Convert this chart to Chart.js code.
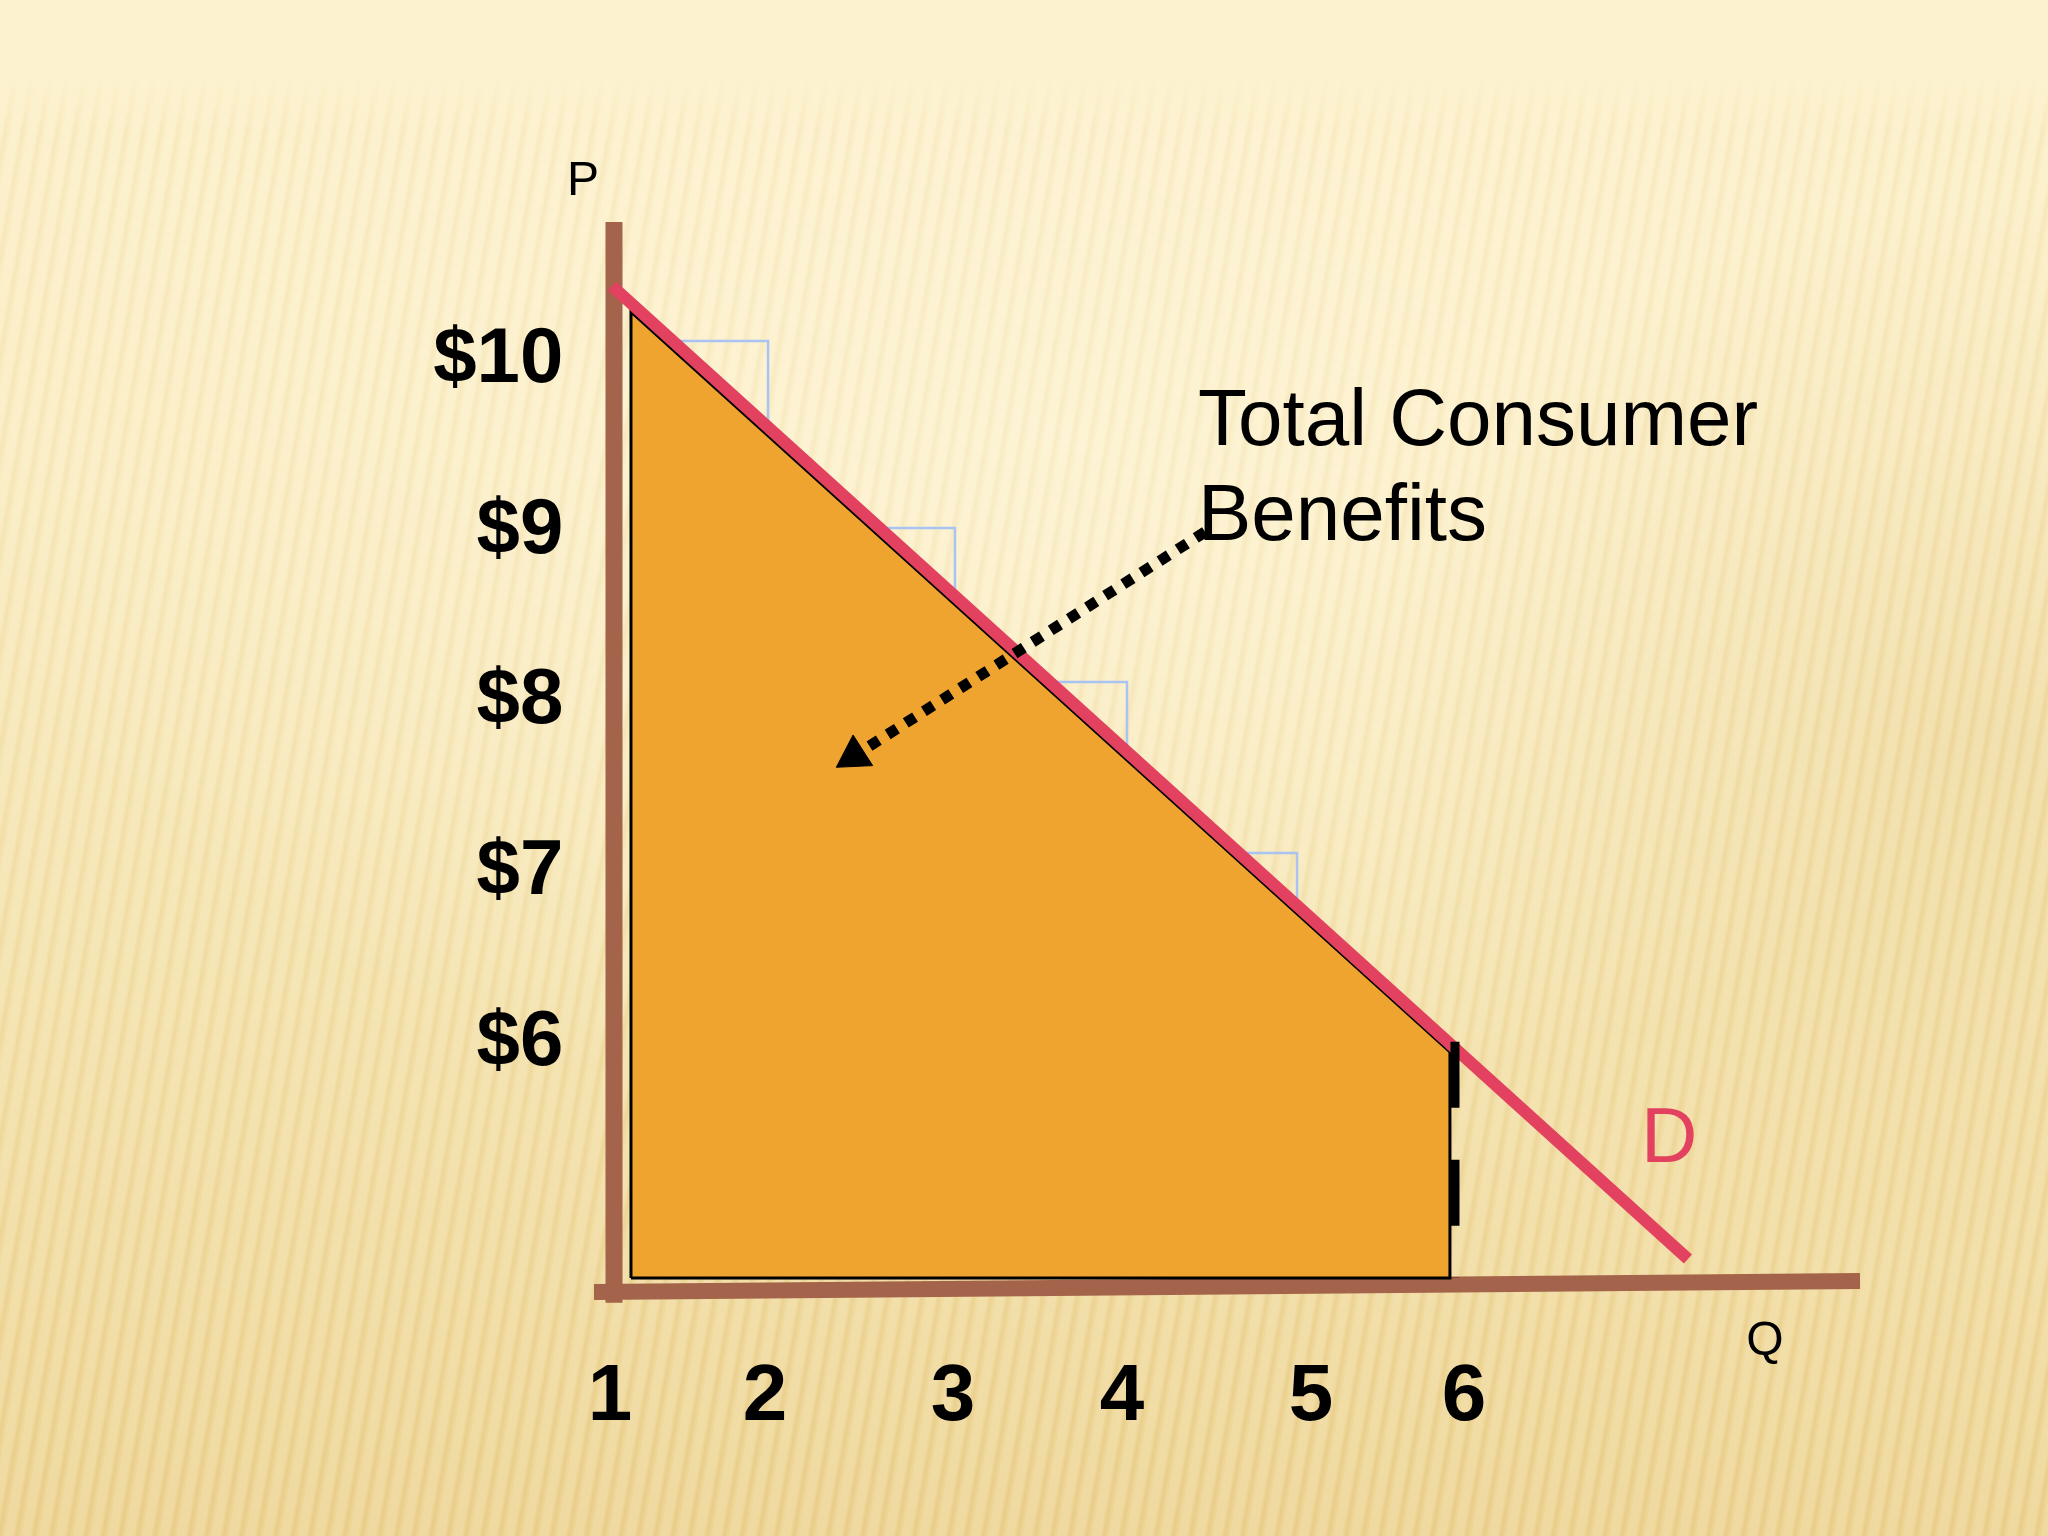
<!DOCTYPE html>
<html>
<head>
<meta charset="utf-8">
<script src="https://cdn.jsdelivr.net/npm/chart.js@4.4.1/dist/chart.umd.min.js"></script>
<style>
  html, body { margin: 0; padding: 0; }
  body {
    width: 2048px;
    height: 1536px;
    overflow: hidden;
    background:
      linear-gradient(to bottom, #fdf2cf 0px, #fdf2cf 75px, rgba(253,242,207,0) 130px),
      repeating-linear-gradient(100deg, rgba(255,251,232,0.22) 0px, rgba(255,251,232,0.22) 7px, rgba(196,156,64,0.07) 11px, rgba(255,251,232,0.22) 17px),
      radial-gradient(ellipse 30% 35% at 96% 48%, rgba(222,190,112,0.30) 0%, rgba(222,190,112,0) 100%),
      radial-gradient(ellipse 55% 45% at 52% 28%, rgba(253,243,210,0.85) 0%, rgba(253,243,210,0) 100%),
      linear-gradient(to bottom, #fcefc8 0%, #faebbf 28%, #f3e0a8 62%, #ebd08c 100%);
  }
  #wrap { position: absolute; left: 0; top: 0; width: 2048px; height: 1536px; }
</style>
</head>
<body>
<div id="wrap"><canvas id="surplusChart"></canvas></div>
<script>
// price ticks on the vertical axis
const priceTicks = [6, 7, 8, 9, 10];
// quantity labels and where they sit on the quantity axis
const quantityLabels = ['1', '2', '3', '4', '5', '6'];
const quantityTickPos = [0.976, 1.898, 3.015, 4.02, 5.144, 6.054];

// demand curve end points
const demandQ = [0.988, 7.385];
const demandP = [10.407, 4.707];

// shaded consumer benefit area (top edge + base price)
const areaTopQ = [1.101, 5.970];
const areaTopP = [10.255, 5.920];
const areaBaseP = 4.596;

// willingness-to-pay steps above the demand line
const stepStartQ = [1.345, 2.581, 3.580, 4.710];
const stepCornerQ = [1.916, 3.027, 4.050, 5.061];
const stepTopP = [10.085, 8.989, 8.087, 7.086];
const stepEndP = [9.581, 8.579, 7.677, 6.787];

// dashed line at the quantity bought
const boughtQ = [6.0, 6.0];
const boughtP = [5.979, 4.596];

// axes lines
const pAxisQ = [1.0, 1.0];
const pAxisP = [10.782, 4.45];
const qAxisQ = [0.881, 8.408];
const qAxisP = [4.514, 4.578];

// arrow from the label into the area
const arrowQ = [4.514, 2.427];
const arrowP = [8.966, 7.654];

const fontFamily = '"Liberation Sans", Arial, Helvetica, sans-serif';

function pts(qs, ps) {
  return qs.map((q, i) => ({ x: q, y: ps[i] }));
}

// build the step polylines, broken by gaps
const stepPoints = [];
stepStartQ.forEach((q, i) => {
  stepPoints.push({ x: q, y: stepTopP[i] });
  stepPoints.push({ x: stepCornerQ[i], y: stepTopP[i] });
  stepPoints.push({ x: stepCornerQ[i], y: stepEndP[i] });
  stepPoints.push({ x: stepCornerQ[i], y: null });
});

const outlinePoints = [
  { x: areaTopQ[0], y: areaBaseP },
  { x: areaTopQ[0], y: areaTopP[0] },
  { x: areaTopQ[1], y: areaTopP[1] },
  { x: areaTopQ[1], y: areaBaseP },
  { x: areaTopQ[0], y: areaBaseP }
];

// text placed in data coordinates
const textNotes = [
  { text: 'P', q: 0.816, p: 11.02, size: 48, color: '#000', align: 'center', base: 'middle' },
  { text: 'Q', q: 7.843, p: 4.22, size: 48, color: '#000', align: 'center', base: 'middle' },
  { text: 'D', q: 7.106, p: 5.275, size: 78, color: '#e2415f', align: 'left', base: 'alphabetic' },
  { text: 'Total Consumer', q: 4.472, p: 9.476, size: 80, color: '#000', align: 'left', base: 'alphabetic' },
  { text: 'Benefits', q: 4.472, p: 8.919, size: 80, color: '#000', align: 'left', base: 'alphabetic' }
];

const notesPlugin = {
  id: 'notes',
  afterDatasetsDraw(chart) {
    const ctx = chart.ctx;
    const xs = chart.scales.x, ys = chart.scales.y;
    ctx.save();
    textNotes.forEach(n => {
      ctx.font = n.size + 'px ' + fontFamily;
      ctx.fillStyle = n.color;
      ctx.textAlign = n.align;
      ctx.textBaseline = n.base;
      ctx.fillText(n.text, xs.getPixelForValue(n.q), ys.getPixelForValue(n.p));
    });
    ctx.restore();
  }
};

const lineBase = { pointRadius: 0, fill: false, tension: 0, borderCapStyle: 'butt', clip: false };

const ctx = document.getElementById('surplusChart').getContext('2d');
const chart = new Chart(ctx, {
  type: 'line',
  data: {
    datasets: [
      {
        ...lineBase,
        label: 'arrowhead',
        order: 0,
        data: [{ x: arrowQ[1], y: arrowP[1] }],
        showLine: false,
        pointRadius: 21,
        pointStyle: 'triangle',
        pointRotation: 237.4,
        pointBackgroundColor: '#000',
        pointBorderColor: '#000',
        pointBorderWidth: 1
      },
      {
        ...lineBase,
        label: 'arrow',
        order: 1,
        data: pts(arrowQ, arrowP),
        borderColor: '#000',
        borderWidth: 11,
        borderDash: [11, 10.5]
      },
      {
        ...lineBase,
        label: 'bought',
        order: 2,
        data: pts(boughtQ, boughtP),
        borderColor: '#000',
        borderWidth: 9,
        borderDash: [66, 52]
      },
      {
        ...lineBase,
        label: 'D',
        order: 3,
        data: pts(demandQ, demandP),
        borderColor: '#e2415f',
        borderWidth: 12
      },
      {
        ...lineBase,
        label: 'steps',
        order: 4,
        data: stepPoints,
        spanGaps: false,
        borderColor: '#a9c4f2',
        borderWidth: 2.5,
        borderJoinStyle: 'miter'
      },
      {
        ...lineBase,
        label: 'outline',
        order: 5,
        data: outlinePoints,
        borderColor: '#000',
        borderWidth: 3,
        borderJoinStyle: 'miter'
      },
      {
        ...lineBase,
        label: 'area',
        order: 6,
        data: pts(areaTopQ, areaTopP),
        borderWidth: 0,
        borderColor: 'rgba(0,0,0,0)',
        backgroundColor: '#f0a430',
        fill: { value: areaBaseP }
      },
      {
        ...lineBase,
        label: 'P axis',
        order: 7,
        data: pts(pAxisQ, pAxisP),
        borderColor: '#a4634b',
        borderWidth: 17
      },
      {
        ...lineBase,
        label: 'Q axis',
        order: 8,
        data: pts(qAxisQ, qAxisP),
        borderColor: '#a4634b',
        borderWidth: 16
      }
    ]
  },
  options: {
    responsive: true,
    maintainAspectRatio: false,
    devicePixelRatio: 1,
    animation: false,
    layout: { padding: { top: 184.8, right: 155.7, left: 0, bottom: 0 } },
    plugins: {
      legend: { display: false },
      tooltip: { enabled: false },
      title: { display: false }
    },
    scales: {
      x: {
        type: 'linear',
        min: 0.8,
        max: 8.6,
        grid: { display: false, drawTicks: false },
        border: { display: false },
        afterFit(scale) { scale.height = 1536 - 1311.4; },
        afterBuildTicks(scale) { scale.ticks = quantityTickPos.map(v => ({ value: v })); },
        ticks: {
          padding: 39,
          color: '#000',
          maxRotation: 0,
          autoSkip: false,
          font: { family: fontFamily, size: 80, weight: 'bold' },
          callback: (v, i) => quantityLabels[i]
        }
      },
      y: {
        type: 'linear',
        min: 4.4,
        max: 11,
        grid: { display: false, drawTicks: false },
        border: { display: false },
        afterFit(scale) { scale.width = 580.36; },
        afterBuildTicks(scale) { scale.ticks = priceTicks.map(v => ({ value: v })); },
        ticks: {
          padding: 17,
          labelOffset: 5,
          color: '#000',
          autoSkip: false,
          font: { family: fontFamily, size: 78, weight: 'bold' },
          callback: v => '$' + v
        }
      }
    }
  },
  plugins: [notesPlugin]
});
</script>
</body>
</html>
